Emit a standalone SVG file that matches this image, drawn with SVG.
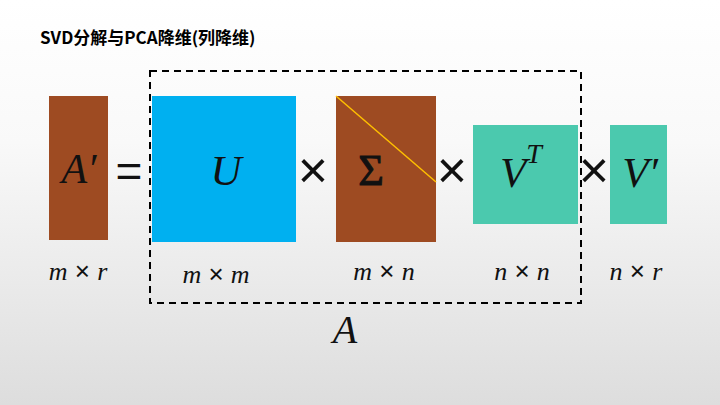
<svg xmlns="http://www.w3.org/2000/svg" width="720" height="405" viewBox="0 0 720 405">
<defs>
<linearGradient id="bg" x1="0" y1="0" x2="0" y2="1">
<stop offset="0" stop-color="#FFFFFF"/>
<stop offset="0.35" stop-color="#F9F9F9"/>
<stop offset="1" stop-color="#DDDDDD"/>
</linearGradient>
<style>
.m{font-family:"Liberation Serif","DejaVu Serif",serif;font-style:italic;fill:#111}
.op{font-family:"Liberation Sans","DejaVu Sans",sans-serif;fill:#111}
.brown{fill:#9E4B22}
.teal{fill:#4BC9AE}
.dim{font-family:"Liberation Serif","DejaVu Serif",serif;font-style:italic;font-size:26px;fill:#111}
.x{font-family:"Liberation Sans","DejaVu Sans",sans-serif;font-style:normal}
</style>
</defs>
<rect width="720" height="405" fill="url(#bg)"/>
<text x="40" y="44" font-family="'Noto Sans CJK SC','Noto Sans',sans-serif" font-weight="bold" font-size="17" fill="#000">SVD分解与PCA降维(列降维)</text>

<g id="connectors">
<rect x="150" y="71" width="431" height="232" fill="none" stroke="#000" stroke-width="2" stroke-dasharray="7,5"/>
</g>

<g id="Aprime">
<rect class="brown" x="49" y="96" width="59" height="144"/>
<text class="m" x="79" y="183" font-size="42" text-anchor="middle">A′</text>
</g>
<text class="op" x="129" y="187" font-size="46" text-anchor="middle">=</text>

<g id="U">
<rect x="152" y="96" width="144" height="146" fill="#00B0F0"/>
<text class="m" x="226" y="185" font-size="43" text-anchor="middle">U</text>
</g>
<text class="op" x="313" y="188" font-size="52" text-anchor="middle">×</text>

<g id="Sigma">
<rect class="brown" x="336" y="96" width="100" height="146"/>
<line x1="336" y1="96" x2="436" y2="182" stroke="#FFC000" stroke-width="1.5"/>
<text x="371" y="185" font-family="'Liberation Serif','DejaVu Serif',serif" font-size="44" text-anchor="middle" fill="#111" stroke="#111" stroke-width="1">Σ</text>
</g>
<text class="op" x="452" y="188" font-size="52" text-anchor="middle">×</text>

<g id="VT">
<rect class="teal" x="473" y="125" width="105" height="99"/>
<text class="m" x="500" y="187" font-size="43">V<tspan font-size="28" dy="-24">T</tspan></text>
</g>
<text class="op" x="594" y="188" font-size="52" text-anchor="middle">×</text>

<g id="Vprime">
<rect class="teal" x="610" y="125" width="57" height="99"/>
<text class="m" x="640" y="187" font-size="43" text-anchor="middle">V′</text>
</g>

<text class="dim" x="78" y="280" text-anchor="middle">m<tspan class="x"> × </tspan>r</text>
<text class="dim" x="216" y="283" text-anchor="middle">m<tspan class="x"> × </tspan>m</text>
<text class="dim" x="384" y="280" text-anchor="middle">m<tspan class="x"> × </tspan>n</text>
<text class="dim" x="522" y="280" text-anchor="middle">n<tspan class="x"> × </tspan>n</text>
<text class="dim" x="636" y="280" text-anchor="middle">n<tspan class="x"> × </tspan>r</text>
<text class="m" x="345" y="343" font-size="40" text-anchor="middle">A</text>
</svg>
